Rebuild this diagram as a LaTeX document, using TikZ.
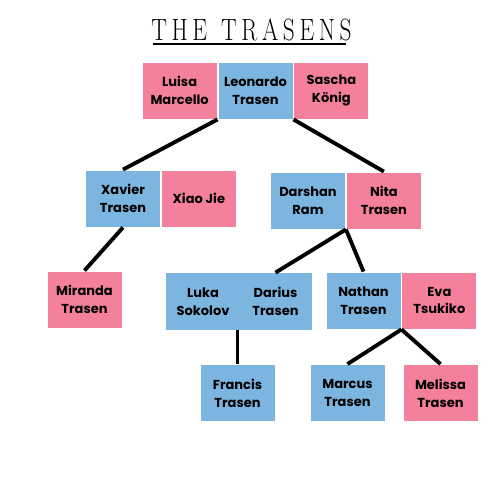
\documentclass[tikz,border=0pt]{standalone}
\usepackage{fontspec}
\setsansfont{Poppins}
\newfontfamily\titlefont[LetterSpace=20]{Latin Modern Roman}
\usepackage{xcolor}
\usepackage{tikz}
\usetikzlibrary{positioning}
\definecolor{famblue}{RGB}{124,181,224}
\definecolor{fampink}{RGB}{245,128,155}

\tikzset{
  names/.style={align=center,font=\sffamily\bfseries\fontsize{7.4}{10.2}\selectfont},
  person/.style={names,minimum width=1.5cm,minimum height=1.14cm,inner sep=1pt,
    draw=white,line width=0.5pt},
  him/.style={person,fill=famblue},
  her/.style={person,fill=fampink},
  link/.style={line width=2.2pt,black}
}

\begin{document}
\begin{tikzpicture}[x=0.02cm,y=-0.02cm]
  \fill[white] (0,0) rectangle (500,500);
  % title
  \node (title) at (251.5,30) {\scalebox{0.76}[1]{\titlefont\fontsize{17.5}{18}\selectfont THE\hspace{0.6em}TRASENS}};
  \coordinate (ulA) at (153,44);
  \coordinate (ulB) at (346,44);
  \draw[line width=1.1pt] (ulA) -- (ulB);

  % first generation
  \node[him] (leonardo) at (255.5,90.5) {Leonardo\\Trasen};
  \node[her,left=0pt of leonardo] (luisa) {Luisa\\Marcello};
  \node[her,right=0pt of leonardo] (sascha) {Sascha\\König};

  % second generation
  \node[him] (xavier) at (123,198.5) {Xavier\\Trasen};
  \node[her,right=0pt of xavier] (xiao) {Xiao Jie};
  \node[him] (darshan) at (308,200.5) {Darshan\\Ram};
  \node[her,right=0pt of darshan] (nita) {Nita\\Trasen};

  % third generation
  \node[her] (miranda) at (84.5,299.5) {Miranda\\Trasen};
  \node[him,draw=none,minimum width=2.92cm] (couple) at (239,301.5) {};
  \node[names] (luka) at (203,301.5) {Luka\\Sokolov};
  \node[names] (darius) at (275.5,301.5) {Darius\\Trasen};
  \node[him] (nathan) at (363.5,300.5) {Nathan\\Trasen};
  \node[her,right=0pt of nathan] (eva) {Eva\\Tsukiko};

  % fourth generation
  \node[him] (francis) at (237.5,393) {Francis\\Trasen};
  \node[him] (marcus) at (347.5,393) {Marcus\\Trasen};
  \node[her] (melissa) at (440.5,393) {Melissa\\Trasen};

  % links
  \draw[link] (leonardo.south west) -- (xavier.north);
  \draw[link] (leonardo.south east) -- (nita.north);
  \draw[link] (xavier.south) -- (miranda.north);
  \draw[link] (darshan.south east) -- (darius.north |- couple.north);
  \draw[link] (darshan.south east) -- (nathan.north);
  \draw[link] (francis.north |- couple.south) -- (francis.north);
  \draw[link] (nathan.south east) -- (marcus.north);
  \draw[link] (nathan.south east) -- (melissa.north);
\end{tikzpicture}
\end{document}
